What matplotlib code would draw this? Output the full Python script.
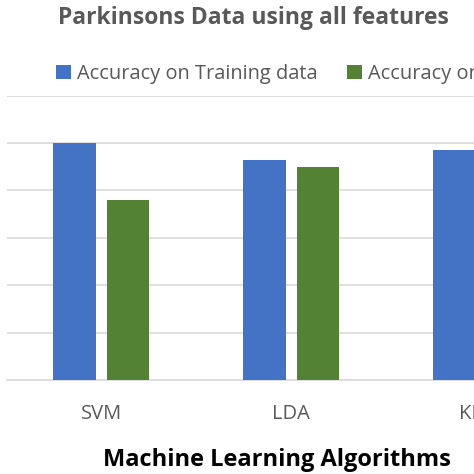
import numpy as np
import matplotlib.pyplot as plt

plt.rcParams['font.family'] = ['Open Sans', 'DejaVu Sans']

# Values (accuracy, 0..1)
algorithms = ['SVM', 'LDA', 'KNN']
train_acc = [1.00, 0.93, 0.969]
test_acc = [0.758, 0.899, 0.86]   # KNN test bar lies outside the crop
series_labels = ['Accuracy on Training data', 'Accuracy on Testing data']

blue = '#4472C4'
green = '#548235'
grey_text = '#595959'

fig = plt.figure(figsize=(4.74, 4.74), dpi=100)
# plot area runs past the right edge of the picture, like the cropped original
ax = fig.add_axes([6.6 / 474, 94 / 474, 569 / 474, 284.3 / 474])

x = np.arange(len(algorithms))
w = 0.224
off = 0.141
b1 = ax.bar(x - off, train_acc, w, color=blue, label=series_labels[0], zorder=3)
b2 = ax.bar(x + off, test_acc, w, color=green, label=series_labels[1], zorder=3)

ax.set_xlim(-0.5, len(algorithms) - 0.5)
ax.set_ylim(0, 1.2)
ax.set_yticks(np.arange(0, 1.21, 0.2))
ax.yaxis.grid(True, color='#D9D9D9', linewidth=1.2, zorder=0)
ax.tick_params(axis='y', left=False, labelleft=False)
ax.tick_params(axis='x', bottom=False, pad=14, labelsize=14.5, labelcolor=grey_text)
ax.set_xticks(x)
ax.set_xticklabels(algorithms)
for s in ['top', 'right', 'left']:
    ax.spines[s].set_visible(False)
ax.spines['bottom'].set_color('#D9D9D9')
ax.spines['bottom'].set_linewidth(1.2)

fig.text(253 / 474, 1 - 18 / 474, 'Parkinsons Data using all features',
         ha='center', va='center', fontsize=16.5, fontweight='bold', color=grey_text)
fig.text(277 / 474, 1 - 460 / 474, 'Machine Learning Algorithms',
         ha='center', va='center', fontsize=17, fontweight='bold', color='black')

fig.legend(handles=[b1, b2], loc='center left', bbox_to_anchor=(38 / 474, 1 - 74 / 474),
           ncol=2, frameon=False, fontsize=14.4, labelcolor=grey_text,
           handlelength=0.75, handleheight=0.75, handletextpad=0.3, columnspacing=1.45)

fig.savefig('out.png', dpi=100)
